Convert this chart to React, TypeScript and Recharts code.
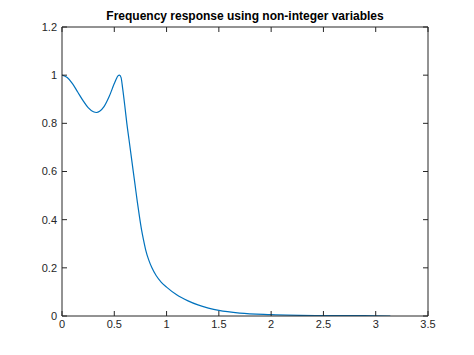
import { LineChart, Line, XAxis, YAxis } from 'recharts';

const omega = [
  0, 0.05, 0.1, 0.15, 0.2, 0.25, 0.3, 0.33, 0.36, 0.4, 0.45, 0.5, 0.52, 0.535, 0.55, 0.565, 0.58,
  0.6, 0.62, 0.64, 0.66, 0.68, 0.7, 0.72, 0.74, 0.76, 0.78, 0.8, 0.83, 0.86, 0.9, 0.95, 1.0, 1.1,
  1.2, 1.3, 1.4, 1.5, 1.7, 2.0, 2.5, 3.0, 3.14,
];
const magnitude = [
  1.0, 0.99, 0.965, 0.93, 0.895, 0.865, 0.848, 0.845, 0.85, 0.868, 0.91, 0.965, 0.985, 0.997, 1.0,
  0.99, 0.945, 0.875, 0.8, 0.735, 0.67, 0.605, 0.54, 0.475, 0.415, 0.36, 0.315, 0.275, 0.232, 0.2,
  0.168, 0.14, 0.12, 0.087, 0.064, 0.046, 0.033, 0.023, 0.012, 0.006, 0.002, 0.001, 0.0,
];
const xTicks = [0, 0.5, 1, 1.5, 2, 2.5, 3, 3.5];
const yTicks = [0, 0.2, 0.4, 0.6, 0.8, 1, 1.2];

const chartData = omega.map((w, i) => ({ w, mag: magnitude[i] }));

const AXIS = '#262626';
const tickStyle = { fontSize: 11, fill: AXIS, fontFamily: 'Liberation Sans, Arial, sans-serif' };

export default function App() {
  return (
    <div style={{ position: 'absolute', left: 0, top: 0, width: 474, height: 355, background: '#fff' }}>
      <div
        style={{
          position: 'absolute',
          left: 62,
          width: 366,
          top: 9,
          textAlign: 'center',
          fontFamily: 'Liberation Sans, Arial, sans-serif',
          fontWeight: 'bold',
          fontSize: 12,
          color: '#000',
          lineHeight: '14px',
        }}
      >
        Frequency response using non-integer variables
      </div>
      <LineChart width={474} height={355} data={chartData} margin={{ top: 0, right: 0, bottom: 0, left: 0 }}>
        <XAxis
          dataKey="w"
          type="number"
          domain={[0, 3.5]}
          ticks={xTicks}
          height={39}
          stroke={AXIS}
          tick={tickStyle}
          tickSize={-5}
          tickMargin={9}
          allowDataOverflow
        />
        <XAxis
          xAxisId="top"
          orientation="top"
          dataKey="w"
          type="number"
          domain={[0, 3.5]}
          ticks={xTicks}
          height={27}
          stroke={AXIS}
          tickFormatter={() => ''}
          tickSize={-5}
          allowDataOverflow
        />
        <YAxis
          type="number"
          domain={[0, 1.2]}
          ticks={yTicks}
          width={62}
          stroke={AXIS}
          tick={tickStyle}
          tickSize={-5}
          tickMargin={10}
          allowDataOverflow
        />
        <YAxis
          yAxisId="right"
          orientation="right"
          type="number"
          domain={[0, 1.2]}
          ticks={yTicks}
          width={46}
          stroke={AXIS}
          tickFormatter={() => ''}
          tickSize={-5}
          allowDataOverflow
        />
        <Line
          type="monotone"
          dataKey="mag"
          stroke="#0072BD"
          strokeWidth={1.2}
          dot={false}
          isAnimationActive={false}
        />
      </LineChart>
    </div>
  );
}
